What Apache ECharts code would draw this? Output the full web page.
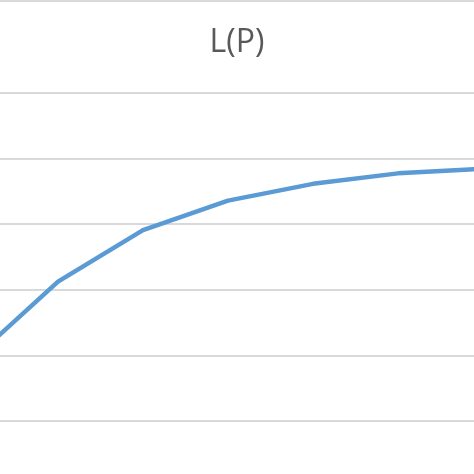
<!DOCTYPE html>
<html><head><meta charset="utf-8">
<script src="https://cdn.jsdelivr.net/npm/echarts@6/dist/echarts.min.js"></script>
<style>html,body{margin:0;padding:0;background:#fff}#c{width:474px;height:474px}</style>
</head><body><div id="c"></div>
<script>
const categories = [0, 1, 2, 3, 4, 5, 6];
const values = [0.189, 0.425, 0.582, 0.672, 0.723, 0.755, 0.769];
const yTicks = [0, 0.2, 0.4, 0.6, 0.8, 1.0];

const chart = echarts.init(document.getElementById('c'), null, {renderer:'canvas'});
chart.setOption({
  animation:false,
  backgroundColor:'#ffffff',
  title:{text:'L(P)', left:'center', top:25, padding:0,
    textStyle:{fontFamily:'Open Sans', fontSize:32, fontWeight:'normal', color:'#595959', lineHeight:36}},
  grid:{left:0, right:0, top:93, bottom:53, containLabel:false},
  xAxis:{type:'value', min:0.3176, max:5.894,
    axisLine:{show:false}, axisTick:{show:false}, axisLabel:{show:false}, splitLine:{show:false}},
  yAxis:{type:'value', min:yTicks[0], max:yTicks[yTicks.length-1], interval:0.2,
    axisLine:{show:false}, axisTick:{show:false}, axisLabel:{show:false},
    splitLine:{show:true, lineStyle:{color:'#d9d9d9', width:2}}},
  graphic:[{type:'line', shape:{x1:0,y1:1,x2:474,y2:1}, style:{stroke:'#d9d9d9', lineWidth:2}}],
  series:[{type:'line', data:categories.map((c,i)=>[c, values[i]]), symbol:'none', smooth:false, clip:true,
    lineStyle:{color:'#5B9BD5', width:4.5}}]
});
</script></body></html>
